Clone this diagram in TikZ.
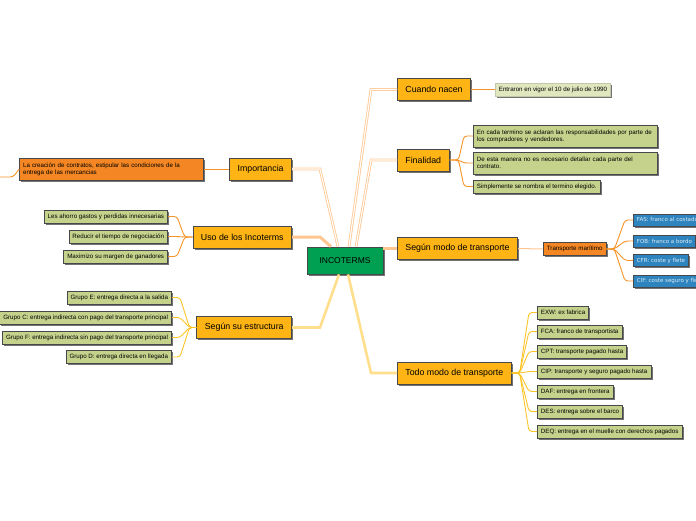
\documentclass[tikz,border=0pt]{standalone}
\usepackage{fontspec}
\setmainfont{Liberation Sans}
\newfontfamily\bluefont{DejaVu Sans}
\usetikzlibrary{shadows}
\definecolor{incogreen}{RGB}{0,160,82}
\definecolor{mainfill}{RGB}{253,180,20}
\definecolor{leafgreen}{RGB}{197,210,140}
\definecolor{leafpale}{RGB}{224,231,190}
\definecolor{leaforange}{RGB}{244,135,35}
\definecolor{leafblue}{RGB}{46,132,190}
\definecolor{edgegray}{RGB}{70,72,75}
\definecolor{trunkorange}{RGB}{255,198,145}
\definecolor{trunkyellow}{RGB}{255,222,140}
\definecolor{branchorange}{RGB}{247,148,40}
\definecolor{branchyellow}{RGB}{252,196,40}

\begin{document}
\begin{tikzpicture}[x=1pt,y=-1pt,
    box/.style={draw=edgegray,line width=0.8pt,drop shadow={shadow xshift=1.6pt,shadow yshift=-1.6pt,fill=black!55,opacity=1}},
    topic/.style={box,fill=mainfill,font=\fontsize{8.8}{10}\selectfont,minimum height=22pt,inner xsep=8pt},
    leaf/.style={box,fill=leafgreen,font=\fontsize{6.2}{7.2}\selectfont,minimum height=13pt,inner xsep=3.5pt,inner ysep=2pt},
    twoline/.style={leaf,text width=177pt,align=left,minimum height=22pt},
    blueleaf/.style={box,fill=leafblue,text=white!85!leafblue,font=\bluefont\fontsize{5.5}{6.5}\selectfont,minimum height=12pt,inner xsep=3.5pt},
    trunkdbl/.style={draw=trunkorange,double=white,double distance=1.1pt,line width=0.8pt},
    trunk/.style={draw=trunkorange,line width=3pt},
    trunklow/.style={draw=trunkyellow,line width=2.6pt},
    branch/.style={draw=branchorange,line width=0.9pt,rounded corners=3pt},
    branchy/.style={draw=branchyellow,line width=0.9pt,rounded corners=3pt}]
    \useasboundingbox (0,0) rectangle (696,520);

    \node (inc) at (345,260.5) [box,fill=incogreen,minimum width=76pt,minimum height=27pt,font=\fontsize{8.5}{10}\selectfont]{INCOTERMS};

    \node (nacen) at (397,89.5) [topic,anchor=west]{Cuando nacen};
    \node (fin) at (397,160) [topic,anchor=west]{Finalidad};
    \node (modo) at (397,248.5) [topic,anchor=west]{Según modo de transporte};
    \node (todo) at (397,373) [topic,anchor=west]{Todo modo de transporte};
    \node (imp) at (292,169) [topic,anchor=east]{Importancia};
    \node (uso) at (292,237) [topic,anchor=east]{Uso de los Incoterms};
    \node (est) at (292,327.5) [topic,anchor=east]{Según su estructura};

    \node (nacen1) at (495,89.5) [leaf,fill=leafpale,draw=leafpale!70!gray,anchor=west]{Entraron en vigor el 10 de julio de 1990};

    \node (fin1) at (473,136) [twoline,anchor=west]{En cada termino se aclaran las responsabilidades por parte de\\los compradores y vendedores.};
    \node (fin2) at (473,163) [twoline,anchor=west]{De esta manera no es necesario detallar cada parte del\\contrato.};
    \node (fin3) at (473,186.5) [leaf,anchor=west]{Simplemente se nombra el termino elegido.};

    \node (imp1) at (204,169) [twoline,fill=leaforange,anchor=east]{La creación de contratos, estipular las condiciones de la\\entrega de las mercancias};
    \coordinate (impout) at (-2,177);

    \node (uso1) at (168,216.5) [leaf,anchor=east]{Les ahorro gastos y perdidas innecesarias};
    \node (uso2) at (168,236.5) [leaf,anchor=east]{Reducir el tiempo de negociación};
    \node (uso3) at (168,256.5) [leaf,anchor=east]{Maximizo su margen de ganadores};

    \node (est1) at (172,297.5) [leaf,anchor=east]{Grupo E: entrega directa a la salida};
    \node (est2) at (172,317.5) [leaf,anchor=east]{Grupo C: entrega indirecta con pago del transporte principal};
    \node (est3) at (172,337.5) [leaf,anchor=east]{Grupo F: entrega indirecta sin pago del transporte principal};
    \node (est4) at (172,357) [leaf,anchor=east]{Grupo D: entrega directa en llegada};

    \node (mar) at (543,249) [leaf,fill=leaforange,anchor=west]{Transporte marítimo};
    \node (fas) at (633,220) [blueleaf,anchor=west]{FAS: franco al costado del buque};
    \node (fob) at (633,241) [blueleaf,anchor=west]{FOB: franco a bordo};
    \node (cfr) at (633,260.5) [blueleaf,anchor=west]{CFR: coste y flete};
    \node (cif) at (633,281) [blueleaf,anchor=west]{CIF: coste seguro y flete};

    \node (exw) at (537,312.5) [leaf,anchor=west]{EXW: ex fabrica};
    \node (fca) at (537,331.5) [leaf,anchor=west]{FCA: franco de transportista};
    \node (cpt) at (537,351.5) [leaf,anchor=west]{CPT: transporte pagado hasta};
    \node (cip) at (537,371.5) [leaf,anchor=west]{CIP: transporte y seguro pagado hasta};
    \node (daf) at (537,391.5) [leaf,anchor=west]{DAF: entrega en frontera};
    \node (des) at (537,411.5) [leaf,anchor=west]{DES: entrega sobre el barco};
    \node (deq) at (537,431.5) [leaf,anchor=west]{DEQ: entrega en el muelle con derechos pagados};

    \draw [trunkdbl] ([xshift=4pt]inc.north) -- ([xshift=-26pt]nacen.west) -- (nacen.west);
    \draw [trunkdbl] ([xshift=11pt]inc.north) -- ([xshift=-26pt]fin.west) -- (fin.west);
    \draw [trunkdbl] ([xshift=-7pt]inc.north) -- ([xshift=28pt]imp.east) -- (imp.east);
    \draw [trunk] ([xshift=-14pt]inc.north) -- ([xshift=28pt]uso.east) -- (uso.east);
    \draw [trunk] (inc.east |- modo.west) -- (modo.west);
    \draw [trunklow] ([xshift=-6pt]inc.south) -- ([xshift=28pt]est.east) -- (est.east);
    \draw [trunklow] ([xshift=3pt]inc.south) -- ([xshift=-26pt]todo.west) -- (todo.west);

    \draw [branch] (nacen.east) to (nacen1.west);

    \draw [branch] (fin.east) -- ++(9,0) -- ([xshift=-9pt]fin1.west) -- (fin1.west);
    \draw [branch] (fin.east) -- ++(9,0) -- ([xshift=-9pt]fin2.west) -- (fin2.west);
    \draw [branch] (fin.east) -- ++(9,0) -- ([xshift=-9pt]fin3.west) -- (fin3.west);

    \draw [branch] (imp.west) to (imp1.east);
    \draw [branch] (imp1.west) -- ++(-6,8) -- (impout);

    \draw [branch] (uso.west) -- ++(-8,0) -- ([xshift=9pt]uso1.east) -- (uso1.east);
    \draw [branch] (uso.west) -- ++(-8,0) -- ([xshift=9pt]uso2.east) -- (uso2.east);
    \draw [branch] (uso.west) -- ++(-8,0) -- ([xshift=9pt]uso3.east) -- (uso3.east);

    \draw [branchy] (est.west) -- ++(-7,0) -- ([xshift=8pt]est1.east) -- (est1.east);
    \draw [branchy] (est.west) -- ++(-7,0) -- ([xshift=8pt]est2.east) -- (est2.east);
    \draw [branchy] (est.west) -- ++(-7,0) -- ([xshift=8pt]est3.east) -- (est3.east);
    \draw [branchy] (est.west) -- ++(-7,0) -- ([xshift=8pt]est4.east) -- (est4.east);

    \draw [trunk,line width=1pt] (modo.east) to (mar.west);
    \draw [branch] (mar.east) -- ++(8,0) -- ([xshift=-8pt]fas.west) -- (fas.west);
    \draw [branch] (mar.east) -- ++(8,0) -- ([xshift=-8pt]fob.west) -- (fob.west);
    \draw [branch] (mar.east) -- ++(8,0) -- ([xshift=-8pt]cfr.west) -- (cfr.west);
    \draw [branch] (mar.east) -- ++(8,0) -- ([xshift=-8pt]cif.west) -- (cif.west);

    \draw [branchy] (todo.east) -- ++(8,0) -- ([xshift=-8pt]exw.west) -- (exw.west);
    \draw [branchy] (todo.east) -- ++(8,0) -- ([xshift=-8pt]fca.west) -- (fca.west);
    \draw [branchy] (todo.east) -- ++(8,0) -- ([xshift=-8pt]cpt.west) -- (cpt.west);
    \draw [branchy] (todo.east) -- ++(8,0) -- ([xshift=-8pt]cip.west) -- (cip.west);
    \draw [branchy] (todo.east) -- ++(8,0) -- ([xshift=-8pt]daf.west) -- (daf.west);
    \draw [branchy] (todo.east) -- ++(8,0) -- ([xshift=-8pt]des.west) -- (des.west);
    \draw [branchy] (todo.east) -- ++(8,0) -- ([xshift=-8pt]deq.west) -- (deq.west);
\end{tikzpicture}
\end{document}
